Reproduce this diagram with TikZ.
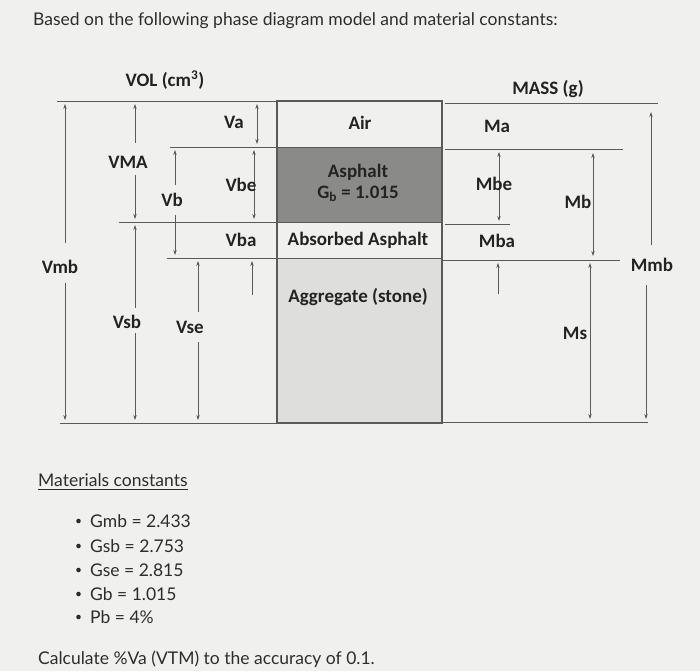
\documentclass[tikz,border=0pt]{standalone}
\usepackage{fontspec}
\setmainfont{Lato}
\newfontfamily\dfont{Carlito}
\usetikzlibrary{arrows.meta}
\definecolor{bg}{RGB}{240,240,238}
\definecolor{ln}{RGB}{90,90,90}
\definecolor{tx}{RGB}{35,35,35}
\definecolor{btx}{RGB}{45,45,45}
\definecolor{asph}{RGB}{138,138,136}
\definecolor{aggr}{RGB}{222,222,220}
\begin{document}
\begin{tikzpicture}[x=1pt,y=-1pt,
  >={Stealth[length=5pt,width=3.4pt]},
  lab/.style={font=\dfont\bfseries\fontsize{19}{22}\selectfont, text=tx, inner sep=0pt},
  body/.style={font=\fontsize{17.5}{20}\selectfont, text=btx, inner sep=0pt, anchor=west},
  hline/.style={draw=ln, line width=0.9pt},
  boxline/.style={draw=ln, line width=1.1pt},
  dimline/.style={draw=ln, line width=0.7pt}]
\fill[bg] (0,0) rectangle (700,671);
\useasboundingbox (0,0) rectangle (700,671);

% phase box
\fill[asph] (277,147) rectangle (442,222);
\fill[aggr] (277,258) rectangle (442,423);
\draw[boxline] (277,101) rectangle (442,423);

% volume side lines
\draw[hline] (57,101) -- (442,101);
\draw[hline] (170,147) -- (442,147);
\draw[hline] (119,222) -- (442,222);
\draw[hline] (167,258) -- (442,258);
\draw[hline] (60,423) -- (442,423);

% mass side lines
\draw[hline] (445,103) -- (658,103);
\draw[hline] (445,149) -- (623,149);
\draw[hline] (445,224) -- (510,224);
\draw[hline] (443,260) -- (620,260);
\draw[hline] (440,422) -- (648,422);

% headings
\node[lab] (vol) at (165,80) {VOL (cm\textsuperscript{3})};
\node[lab] (mass) at (548,89) {MASS (g)};

% box texts
\node[lab] (air) at (360,123) {Air};
\node[lab] (asp) at (358,172) {Asphalt};
\node[lab] (gb) at (358,194) {G\textsubscript{b} = 1.015};
\node[lab] (abs) at (358,240) {Absorbed Asphalt};
\node[lab] (agg) at (358,297) {Aggregate (stone)};

% volume labels
\node[lab] (va) at (234,122) {Va};
\node[lab] (vba) at (241,240) {Vba};
\node[lab] (vma) at (128,162) {VMA};
\node[lab] (vb) at (172,200) {Vb};
\node[lab] (vmb) at (60,267) {Vmb};
\node[lab] (vsb) at (127,322) {Vsb};
\node[lab] (vse) at (190,327) {Vse};

% mass labels
\node[lab] (ma) at (497,126) {Ma};
\node[lab] (mba) at (497,241) {Mba};
\node[lab] (mmb) at (652,265) {Mmb};

% volume arrows
\draw[dimline,->] (65,243) -- (65,104);
\draw[dimline,->] (65,283) -- (65,420);
\draw[dimline,->] (135,143) -- (135,104);
\draw[dimline,->] (135,175) -- (135,219);
\draw[dimline,->] (135,308) -- (135,225);
\draw[dimline,->] (135,333) -- (135,420);
\draw[dimline,->] (175,185) -- (175,150);
\draw[dimline,->] (175,215) -- (175,255);
\draw[dimline,->] (198,312) -- (198,261);
\draw[dimline,->] (198,342) -- (198,420);
\draw[dimline,<->] (257,104) -- (257,144);
\draw[dimline,<->] (254,150) -- (254,219);
\draw[dimline,->] (252,295) -- (252,261);

% mass arrows
\draw[dimline,<->] (499,152) -- (499,221);
\draw[dimline,->] (498,294) -- (498,263);
\draw[dimline,<->] (593,153) -- (593,256);
\draw[dimline,<->] (590,263) -- (590,419);
\draw[dimline,->] (651,245) -- (651,112);
\draw[dimline,->] (646,285) -- (646,419);

% labels over arrows
\node[lab] (vbe) at (241,185) {Vbe};
\node[lab] (mbe) at (494,184) {Mbe};
\node[lab] (mb) at (578,202) {Mb};
\node[lab] (ms) at (575,333) {Ms};

% text
\node[body] (head) at (33,21) {Based on the following phase diagram model and material constants:};
\node[body] (mc) at (38,480) {Materials constants};
\draw[draw=btx, line width=0.7pt] ([yshift=-3pt]mc.south west) -- ([yshift=-3pt]mc.south east);
\foreach \y/\t [count=\i] in {521/Gmb = 2.433, 546/Gsb = 2.753, 570/Gse = 2.815, 594/Gb = 1.015, 617/Pb = 4\%}{
  \fill[btx] (78.5,\y) circle (2.3pt) coordinate (bul\i);
  \node[body] (item\i) at (90,\y) {\t};
}
\node[body] (calc) at (38,659) {Calculate \%Va (VTM) to the accuracy of 0.1.};
\end{tikzpicture}
\end{document}
